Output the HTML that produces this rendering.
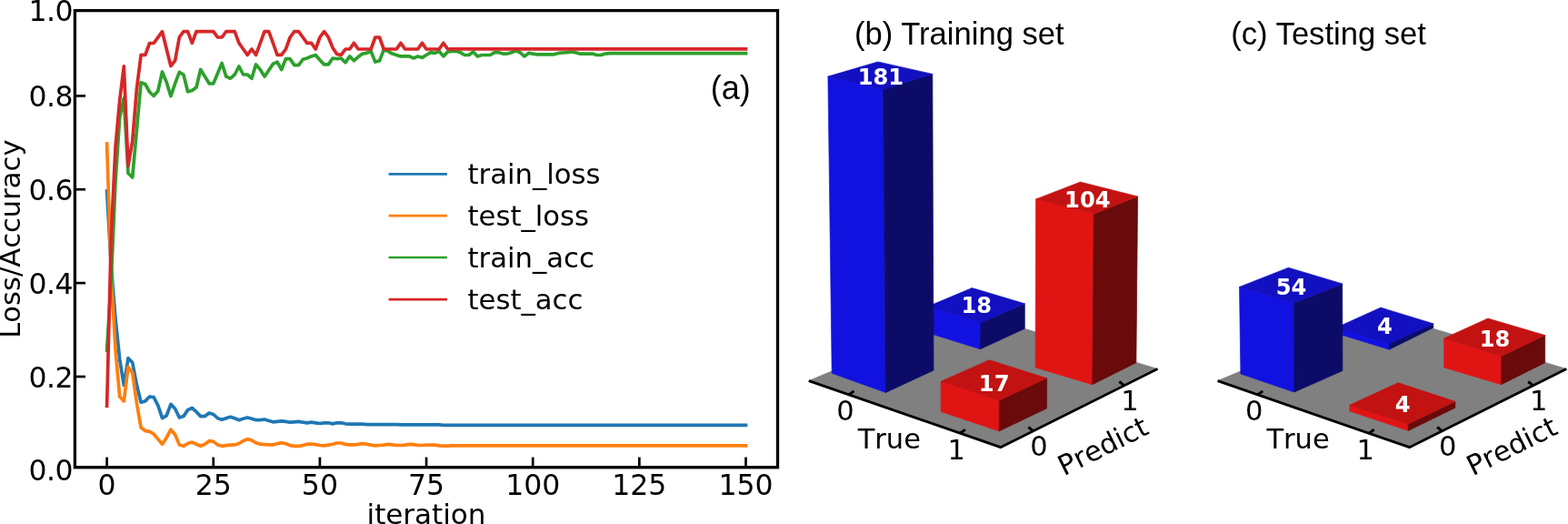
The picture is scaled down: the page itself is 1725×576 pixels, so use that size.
<!DOCTYPE html>
<html><head><meta charset="utf-8"><title>Training curves and confusion matrices</title>
<style>
html,body{margin:0;padding:0;background:#fff;width:1725px;height:576px;overflow:hidden}
svg{display:block}
.dj{font-family:"DejaVu Sans","Liberation Sans",sans-serif;fill:#000;font-kerning:none}
.djb{font-family:"DejaVu Sans","Liberation Sans",sans-serif;font-weight:bold;font-kerning:none}
.lib{font-family:"Liberation Sans",Arial,sans-serif;fill:#000}
</style></head>
<body>
<svg width="1725" height="576" viewBox="0 0 1725 576">
<rect width="1725" height="576" fill="#fff"/>
<g id="panel-a">
<defs><clipPath id="axclip"><rect x="82.4" y="11.6" width="773.1" height="502.15"/></clipPath></defs>
<g clip-path="url(#axclip)">
<polyline points="117.6,210.0 122.3,293.0 127.0,350.0 131.7,395.0 136.3,423.5 141.0,393.7 145.7,398.5 150.4,423.0 155.1,442.3 159.8,440.9 164.5,436.0 169.1,436.7 173.8,445.7 178.5,459.7 183.2,456.9 187.9,444.3 192.6,449.2 197.3,459.0 201.9,457.6 206.6,450.6 211.3,448.5 216.0,452.7 220.7,457.6 225.4,457.6 230.1,454.1 234.8,455.5 239.4,459.7 244.1,461.3 248.8,459.7 253.5,458.3 258.2,459.7 262.9,461.7 267.6,460.3 272.2,459.0 276.9,460.3 281.6,461.7 286.3,461.7 291.0,461.0 295.7,462.4 300.4,463.8 305.0,463.4 309.7,462.9 314.4,463.4 319.1,464.2 323.8,463.8 328.5,463.4 333.2,464.2 337.8,464.8 342.5,464.2 347.2,464.8 351.9,465.5 356.6,464.8 361.3,464.8 366.0,465.9 370.6,464.8 375.3,464.8 380.0,465.8 384.7,466.2 389.4,466.2 394.1,466.2 398.8,466.2 403.4,466.6 408.1,466.6 412.8,466.6 417.5,466.6 422.2,466.6 426.9,466.6 431.6,466.6 436.2,466.6 440.9,466.9 445.6,466.9 450.3,466.9 455.0,466.9 459.7,466.9 464.4,466.9 469.0,466.9 473.7,466.9 478.4,466.9 483.1,466.9 487.8,467.3 492.5,467.3 497.2,467.3 501.9,467.3 506.5,467.3 511.2,467.3 515.9,467.3 520.6,467.4 525.3,467.4 530.0,467.4 534.7,467.4 539.3,467.4 544.0,467.4 548.7,467.4 553.4,467.4 558.1,467.4 562.8,467.4 567.5,467.4 572.1,467.4 576.8,467.4 581.5,467.4 586.2,467.4 590.9,467.4 595.6,467.4 600.3,467.4 604.9,467.4 609.6,467.4 614.3,467.4 619.0,467.4 623.7,467.4 628.4,467.4 633.1,467.4 637.7,467.4 642.4,467.4 647.1,467.4 651.8,467.4 656.5,467.4 661.2,467.4 665.9,467.4 670.5,467.4 675.2,467.4 679.9,467.4 684.6,467.4 689.3,467.4 694.0,467.4 698.7,467.4 703.4,467.4 708.0,467.4 712.7,467.4 717.4,467.4 722.1,467.4 726.8,467.4 731.5,467.4 736.2,467.4 740.8,467.4 745.5,467.4 750.2,467.4 754.9,467.4 759.6,467.4 764.3,467.4 769.0,467.4 773.6,467.4 778.3,467.4 783.0,467.4 787.7,467.4 792.4,467.4 797.1,467.4 801.8,467.4 806.4,467.4 811.1,467.4 815.8,467.4 820.5,467.4" fill="none" stroke="#1f77b4" stroke-width="3.70" stroke-linejoin="round" stroke-linecap="square"/>
<polyline points="117.6,158.0 122.3,302.0 127.0,384.0 131.7,436.0 136.3,440.9 141.0,403.4 145.7,409.5 150.4,443.0 155.1,470.1 159.8,473.6 164.5,474.3 169.1,477.0 173.8,482.6 178.5,488.2 183.2,481.2 187.9,472.2 192.6,477.7 197.3,488.9 201.9,490.3 206.6,487.5 211.3,486.1 216.0,488.2 220.7,490.3 225.4,488.2 230.1,484.7 234.8,485.4 239.4,488.9 244.1,490.3 248.8,489.6 253.5,489.2 258.2,488.9 262.9,487.5 267.6,484.7 272.2,482.6 276.9,484.0 281.6,486.8 286.3,488.2 291.0,488.6 295.7,488.9 300.4,488.9 305.0,487.8 309.7,486.8 314.4,487.8 319.1,489.6 323.8,490.3 328.5,490.3 333.2,489.6 337.8,488.2 342.5,488.2 347.2,488.6 351.9,489.5 356.6,489.8 361.3,489.1 366.0,488.2 370.6,487.0 375.3,487.0 380.0,488.4 384.7,488.9 389.4,488.9 394.1,488.4 398.8,487.7 403.4,488.2 408.1,489.1 412.8,489.8 417.5,489.5 422.2,489.1 426.9,488.4 431.6,488.9 436.2,489.5 440.9,489.5 445.6,489.1 450.3,488.4 455.0,488.7 459.7,489.4 464.4,489.5 469.0,489.1 473.7,489.1 478.4,489.1 483.1,489.8 487.8,490.2 492.5,490.2 497.2,489.8 501.9,489.8 506.5,489.8 511.2,489.8 515.9,489.8 520.6,489.8 525.3,489.8 530.0,489.8 534.7,489.8 539.3,489.8 544.0,489.8 548.7,489.8 553.4,489.8 558.1,489.8 562.8,489.8 567.5,489.8 572.1,489.8 576.8,489.8 581.5,489.8 586.2,489.8 590.9,489.8 595.6,489.8 600.3,489.8 604.9,489.8 609.6,489.8 614.3,489.8 619.0,489.8 623.7,489.8 628.4,489.8 633.1,489.8 637.7,489.8 642.4,489.8 647.1,489.8 651.8,489.8 656.5,489.8 661.2,489.8 665.9,489.8 670.5,489.8 675.2,489.8 679.9,489.8 684.6,489.8 689.3,489.8 694.0,489.8 698.7,489.8 703.4,489.8 708.0,489.8 712.7,489.8 717.4,489.8 722.1,489.8 726.8,489.8 731.5,489.8 736.2,489.8 740.8,489.8 745.5,489.8 750.2,489.8 754.9,489.8 759.6,489.8 764.3,489.8 769.0,489.8 773.6,489.8 778.3,489.8 783.0,489.8 787.7,489.8 792.4,489.8 797.1,489.8 801.8,489.8 806.4,489.8 811.1,489.8 815.8,489.8 820.5,489.8" fill="none" stroke="#ff7f0e" stroke-width="3.70" stroke-linejoin="round" stroke-linecap="square"/>
<polyline points="117.6,385.0 122.3,308.0 127.0,200.0 131.7,129.0 136.3,108.0 141.0,190.5 145.7,195.0 150.4,143.0 155.1,90.7 159.8,92.5 164.5,101.0 169.1,105.5 173.8,100.0 178.5,79.0 183.2,90.4 187.9,105.7 192.6,91.8 197.3,79.3 201.9,82.0 206.6,100.8 211.3,99.4 216.0,96.0 220.7,76.5 225.4,84.1 230.1,91.8 234.8,91.8 239.4,80.7 244.1,69.5 248.8,84.1 253.5,86.2 258.2,82.0 262.9,73.0 267.6,82.0 272.2,82.0 276.9,86.2 281.6,70.9 286.3,76.5 291.0,84.1 295.7,77.2 300.4,70.2 305.0,68.1 309.7,76.5 314.4,64.7 319.1,64.7 323.8,71.6 328.5,71.6 333.2,65.3 337.8,64.0 342.5,61.9 347.2,60.5 351.9,66.0 356.6,70.9 361.3,70.9 366.0,64.0 370.6,64.7 375.3,64.0 380.0,68.8 384.7,61.9 389.4,66.7 394.1,62.6 398.8,59.1 403.4,58.4 408.1,56.3 412.8,68.1 417.5,66.7 422.2,54.9 426.9,56.3 431.6,59.1 436.2,60.5 440.9,61.9 445.6,61.9 450.3,61.9 455.0,64.0 459.7,61.9 464.4,63.3 469.0,60.5 473.7,57.7 478.4,58.4 483.1,56.3 487.8,61.9 492.5,57.0 497.2,56.3 501.9,56.3 506.5,57.7 511.2,60.5 515.9,60.5 520.6,57.0 525.3,61.9 530.0,60.5 534.7,60.5 539.3,60.5 544.0,57.7 548.7,57.7 553.4,59.1 558.1,59.1 562.8,57.7 567.5,55.6 572.1,57.7 576.8,61.9 581.5,58.4 586.2,59.1 590.9,59.8 595.6,59.8 600.3,59.8 604.9,59.8 609.6,59.8 614.3,58.4 619.0,58.0 623.7,57.7 628.4,57.0 633.1,57.7 637.7,59.1 642.4,59.1 647.1,59.1 651.8,59.1 656.5,60.5 661.2,60.5 665.9,59.1 670.5,58.7 675.2,58.7 679.9,58.7 684.6,58.7 689.3,58.7 694.0,58.7 698.7,58.7 703.4,58.7 708.0,58.7 712.7,58.7 717.4,58.7 722.1,58.7 726.8,58.7 731.5,58.7 736.2,58.7 740.8,58.7 745.5,58.7 750.2,58.7 754.9,58.7 759.6,58.7 764.3,58.7 769.0,58.7 773.6,58.7 778.3,58.7 783.0,58.7 787.7,58.7 792.4,58.7 797.1,58.7 801.8,58.7 806.4,58.7 811.1,58.7 815.8,58.7 820.5,58.7" fill="none" stroke="#2ca02c" stroke-width="3.70" stroke-linejoin="round" stroke-linecap="square"/>
<polyline points="117.6,446.3 122.3,260.0 127.0,162.0 131.7,110.0 136.3,72.9 141.0,182.5 145.7,155.0 150.4,98.0 155.1,60.3 159.8,60.3 164.5,47.5 169.1,47.5 173.8,41.1 178.5,34.7 183.2,54.0 187.9,72.5 192.6,66.7 197.3,41.0 201.9,34.7 206.6,34.7 211.3,47.3 216.0,34.7 220.7,34.7 225.4,34.7 230.1,34.7 234.8,34.7 239.4,41.0 244.1,41.0 248.8,34.7 253.5,34.7 258.2,34.7 262.9,47.3 267.6,54.0 272.2,60.4 276.9,54.0 281.6,60.4 286.3,47.3 291.0,34.7 295.7,34.7 300.4,47.3 305.0,60.4 309.7,60.4 314.4,54.0 319.1,41.0 323.8,34.7 328.5,34.7 333.2,41.0 337.8,47.3 342.5,47.3 347.2,54.0 351.9,41.0 356.6,34.7 361.3,41.0 366.0,52.5 370.6,59.5 375.3,60.4 380.0,54.0 384.7,54.0 389.4,47.3 394.1,54.0 398.8,54.0 403.4,54.0 408.1,54.0 412.8,41.0 417.5,41.0 422.2,54.0 426.9,54.0 431.6,54.0 436.2,54.0 440.9,47.3 445.6,54.0 450.3,54.0 455.0,54.0 459.7,54.0 464.4,47.3 469.0,54.0 473.7,54.0 478.4,54.0 483.1,54.0 487.8,47.3 492.5,54.0 497.2,53.8 501.9,53.8 506.5,53.8 511.2,53.8 515.9,53.8 520.6,53.8 525.3,53.8 530.0,53.8 534.7,53.8 539.3,53.8 544.0,53.8 548.7,53.8 553.4,53.8 558.1,53.8 562.8,53.8 567.5,53.8 572.1,53.8 576.8,53.8 581.5,53.8 586.2,53.8 590.9,53.8 595.6,53.8 600.3,53.8 604.9,53.8 609.6,53.8 614.3,53.8 619.0,53.8 623.7,53.8 628.4,53.8 633.1,53.8 637.7,53.8 642.4,53.8 647.1,53.8 651.8,53.8 656.5,53.8 661.2,53.8 665.9,53.8 670.5,53.8 675.2,53.8 679.9,53.8 684.6,53.8 689.3,53.8 694.0,53.8 698.7,53.8 703.4,53.8 708.0,53.8 712.7,53.8 717.4,53.8 722.1,53.8 726.8,53.8 731.5,53.8 736.2,53.8 740.8,53.8 745.5,53.8 750.2,53.8 754.9,53.8 759.6,53.8 764.3,53.8 769.0,53.8 773.6,53.8 778.3,53.8 783.0,53.8 787.7,53.8 792.4,53.8 797.1,53.8 801.8,53.8 806.4,53.8 811.1,53.8 815.8,53.8 820.5,53.8" fill="none" stroke="#d62728" stroke-width="3.70" stroke-linejoin="round" stroke-linecap="square"/>
</g>
<line x1="117.60" y1="513.75" x2="117.60" y2="502.60" stroke="#000" stroke-width="2.70"/>
<line x1="234.75" y1="513.75" x2="234.75" y2="502.60" stroke="#000" stroke-width="2.70"/>
<line x1="351.90" y1="513.75" x2="351.90" y2="502.60" stroke="#000" stroke-width="2.70"/>
<line x1="469.05" y1="513.75" x2="469.05" y2="502.60" stroke="#000" stroke-width="2.70"/>
<line x1="586.20" y1="513.75" x2="586.20" y2="502.60" stroke="#000" stroke-width="2.70"/>
<line x1="703.35" y1="513.75" x2="703.35" y2="502.60" stroke="#000" stroke-width="2.70"/>
<line x1="820.50" y1="513.75" x2="820.50" y2="502.60" stroke="#000" stroke-width="2.70"/>
<line x1="82.40" y1="414.00" x2="94.05" y2="414.00" stroke="#000" stroke-width="2.70"/>
<line x1="82.40" y1="311.10" x2="94.05" y2="311.10" stroke="#000" stroke-width="2.70"/>
<line x1="82.40" y1="208.20" x2="94.05" y2="208.20" stroke="#000" stroke-width="2.70"/>
<line x1="82.40" y1="105.40" x2="94.05" y2="105.40" stroke="#000" stroke-width="2.70"/>
<rect x="82.40" y="11.60" width="773.10" height="502.15" fill="none" stroke="#000" stroke-width="3.30"/>
<text x="80.0" y="22.68" text-anchor="end" class="dj" font-size="31.5" letter-spacing="-0.5">1.0</text>
<text x="80.0" y="117.08" text-anchor="end" class="dj" font-size="31.5" letter-spacing="-0.5">0.8</text>
<text x="80.0" y="219.78" text-anchor="end" class="dj" font-size="31.5" letter-spacing="-0.5">0.6</text>
<text x="80.0" y="322.68" text-anchor="end" class="dj" font-size="31.5" letter-spacing="-0.5">0.4</text>
<text x="80.0" y="426.08" text-anchor="end" class="dj" font-size="31.5" letter-spacing="-0.5">0.2</text>
<text x="80.0" y="527.58" text-anchor="end" class="dj" font-size="31.5" letter-spacing="-0.5">0.0</text>
<text x="117.60" y="543.50" text-anchor="middle" class="dj" font-size="31.5">0</text>
<text x="234.75" y="543.50" text-anchor="middle" class="dj" font-size="31.5">25</text>
<text x="351.90" y="543.50" text-anchor="middle" class="dj" font-size="31.5">50</text>
<text x="469.05" y="543.50" text-anchor="middle" class="dj" font-size="31.5">75</text>
<text x="586.20" y="543.50" text-anchor="middle" class="dj" font-size="31.5">100</text>
<text x="703.35" y="543.50" text-anchor="middle" class="dj" font-size="31.5">125</text>
<text x="820.50" y="543.50" text-anchor="middle" class="dj" font-size="31.5">150</text>
<text x="469" y="575.8" text-anchor="middle" class="dj" font-size="31">iteration</text>
<text transform="translate(22.1,262.6) rotate(-90)" text-anchor="middle" class="dj" font-size="30.6">Loss/Accuracy</text>
<text x="803.8" y="108.6" text-anchor="middle" class="lib" font-size="36">(a)</text>
<line x1="427.6" y1="191.45" x2="491.9" y2="191.45" stroke="#1f77b4" stroke-width="2.7"/>
<text x="514.5" y="202.45" class="dj" font-size="30.7">train_loss</text>
<line x1="427.6" y1="237.20" x2="491.9" y2="237.20" stroke="#ff7f0e" stroke-width="2.7"/>
<text x="514.5" y="248.20" class="dj" font-size="30.7">test_loss</text>
<line x1="427.6" y1="283.00" x2="491.9" y2="283.00" stroke="#2ca02c" stroke-width="2.7"/>
<text x="514.5" y="294.00" class="dj" font-size="30.7">train_acc</text>
<line x1="427.6" y1="329.10" x2="491.9" y2="329.10" stroke="#d62728" stroke-width="2.7"/>
<text x="514.5" y="340.10" class="dj" font-size="30.7">test_acc</text>
</g>
<g id="panel-b">
<polygon points="889.8,418.6 1100.8,491.7 1273.5,405.5 1068.2,343.4" fill="#808080" stroke="#808080" stroke-width="0.70" stroke-linejoin="round"/>
<polygon points="1021.1,336.8 1079.0,354.5 1078.4,383.8 1021.5,366.0" fill="#1212e0" stroke="#1212e0" stroke-width="0.70" stroke-linejoin="round"/>
<polygon points="1079.0,354.5 1127.3,333.8 1127.3,361.2 1078.4,383.8" fill="#0c0c68" stroke="#0c0c68" stroke-width="0.70" stroke-linejoin="round"/>
<polygon points="1069.4,316.5 1127.3,333.8 1079.0,354.5 1021.1,336.8" fill="#1210c0" stroke="#1210c0" stroke-width="0.70" stroke-linejoin="round"/>
<polygon points="910.9,84.1 971.6,98.2 974.4,431.5 915.2,410.3" fill="#1212e0" stroke="#1212e0" stroke-width="0.70" stroke-linejoin="round"/>
<polygon points="971.6,98.2 1025.8,81.4 1027.0,407.1 974.4,431.5" fill="#0c0c68" stroke="#0c0c68" stroke-width="0.70" stroke-linejoin="round"/>
<polygon points="965.8,67.9 1025.8,81.4 971.6,98.2 910.9,84.1" fill="#1210c0" stroke="#1210c0" stroke-width="0.70" stroke-linejoin="round"/>
<polygon points="1139.6,218.9 1203.3,235.1 1201.8,422.7 1139.1,404.0" fill="#e11414" stroke="#e11414" stroke-width="0.70" stroke-linejoin="round"/>
<polygon points="1203.3,235.1 1251.6,215.9 1249.9,398.7 1201.8,422.7" fill="#6a0a0a" stroke="#6a0a0a" stroke-width="0.70" stroke-linejoin="round"/>
<polygon points="1188.5,200.1 1251.6,215.9 1203.3,235.1 1139.6,218.9" fill="#c31212" stroke="#c31212" stroke-width="0.70" stroke-linejoin="round"/>
<polygon points="1035.2,419.3 1099.4,440.0 1099.2,473.9 1035.2,452.5" fill="#e11414" stroke="#e11414" stroke-width="0.70" stroke-linejoin="round"/>
<polygon points="1099.4,440.0 1151.7,415.7 1151.5,448.9 1099.2,473.9" fill="#6a0a0a" stroke="#6a0a0a" stroke-width="0.70" stroke-linejoin="round"/>
<polygon points="1088.3,395.7 1151.7,415.7 1099.4,440.0 1035.2,419.3" fill="#c31212" stroke="#c31212" stroke-width="0.70" stroke-linejoin="round"/>
<polyline points="889.8,418.6 1100.8,491.7 1273.5,405.5" fill="none" stroke="#000" stroke-width="2.9" stroke-linejoin="miter"/>
<line x1="934.0" y1="433.9" x2="939.4" y2="429.9" stroke="#000" stroke-width="3.0"/>
<line x1="1056.3" y1="476.2" x2="1061.9" y2="472.1" stroke="#000" stroke-width="3.0"/>
<line x1="1136.6" y1="473.8" x2="1131.4" y2="469.5" stroke="#000" stroke-width="3.0"/>
<line x1="1236.6" y1="423.7" x2="1231.4" y2="419.5" stroke="#000" stroke-width="3.0"/>
<text x="968.9" y="92.9" text-anchor="middle" class="djb" font-size="24.2" fill="#fff">181</text>
<text x="1074.3" y="343.8" text-anchor="middle" class="djb" font-size="24.2" fill="#fff">18</text>
<text x="1196.3" y="227.5" text-anchor="middle" class="djb" font-size="24.2" fill="#fff">104</text>
<text x="1093.7" y="429.6" text-anchor="middle" class="djb" font-size="24.2" fill="#fff">17</text>
<text x="930.0" y="462.0" text-anchor="middle" class="dj" font-size="30.5">0</text>
<text x="1052.3" y="504.7" text-anchor="middle" class="dj" font-size="30.5">1</text>
<text x="1142.9" y="501.2" text-anchor="middle" class="dj" font-size="30.5">0</text>
<text x="1242.9" y="451.2" text-anchor="middle" class="dj" font-size="30.5">1</text>
<text x="978.3" y="493.3" text-anchor="middle" class="dj" font-size="30.5">True</text>
<text transform="translate(1218.0,499.8) rotate(-26.5)" text-anchor="middle" class="dj" font-size="30.5">Predict</text>
<text x="940" y="49.1" class="lib" font-size="34.6">(b) Training set</text>
</g>
<g id="panel-c">
<polygon points="1339.6,418.6 1550.6,491.7 1723.3,405.5 1518.0,343.4" fill="#808080" stroke="#808080" stroke-width="0.70" stroke-linejoin="round"/>
<polygon points="1470.5,360.0 1528.3,377.7 1528.3,384.2 1470.5,366.5" fill="#1212e0" stroke="#1212e0" stroke-width="0.70" stroke-linejoin="round"/>
<polygon points="1528.3,377.7 1576.8,355.8 1576.8,360.2 1528.3,384.2" fill="#0c0c68" stroke="#0c0c68" stroke-width="0.70" stroke-linejoin="round"/>
<polygon points="1519.0,338.1 1576.8,355.8 1528.3,377.7 1470.5,360.0" fill="#1210c0" stroke="#1210c0" stroke-width="0.70" stroke-linejoin="round"/>
<polygon points="1363.5,315.4 1423.2,333.1 1423.8,431.0 1364.9,411.0" fill="#1212e0" stroke="#1212e0" stroke-width="0.70" stroke-linejoin="round"/>
<polygon points="1423.2,333.1 1476.7,311.9 1476.9,407.6 1423.8,431.0" fill="#0c0c68" stroke="#0c0c68" stroke-width="0.70" stroke-linejoin="round"/>
<polygon points="1417.5,294.2 1476.7,311.9 1423.2,333.1 1363.5,315.4" fill="#1210c0" stroke="#1210c0" stroke-width="0.70" stroke-linejoin="round"/>
<polygon points="1588.6,371.9 1651.9,391.4 1651.6,422.7 1588.6,403.9" fill="#e11414" stroke="#e11414" stroke-width="0.70" stroke-linejoin="round"/>
<polygon points="1651.9,391.4 1699.7,368.5 1699.7,398.7 1651.6,422.7" fill="#6a0a0a" stroke="#6a0a0a" stroke-width="0.70" stroke-linejoin="round"/>
<polygon points="1636.9,350.0 1699.7,368.5 1651.9,391.4 1588.6,371.9" fill="#c31212" stroke="#c31212" stroke-width="0.70" stroke-linejoin="round"/>
<polygon points="1484.9,445.2 1549.3,466.1 1549.3,473.4 1484.9,451.9" fill="#e11414" stroke="#e11414" stroke-width="0.70" stroke-linejoin="round"/>
<polygon points="1549.3,466.1 1600.9,441.3 1600.9,448.3 1549.3,473.4" fill="#6a0a0a" stroke="#6a0a0a" stroke-width="0.70" stroke-linejoin="round"/>
<polygon points="1538.1,420.7 1600.9,441.3 1549.3,466.1 1484.9,445.2" fill="#c31212" stroke="#c31212" stroke-width="0.70" stroke-linejoin="round"/>
<polyline points="1339.6,418.6 1550.6,491.7 1723.3,405.5" fill="none" stroke="#000" stroke-width="2.9" stroke-linejoin="miter"/>
<line x1="1383.8" y1="433.9" x2="1389.2" y2="429.9" stroke="#000" stroke-width="3.0"/>
<line x1="1506.1" y1="476.2" x2="1511.7" y2="472.1" stroke="#000" stroke-width="3.0"/>
<line x1="1586.4" y1="473.8" x2="1581.2" y2="469.5" stroke="#000" stroke-width="3.0"/>
<line x1="1686.4" y1="423.7" x2="1681.2" y2="419.5" stroke="#000" stroke-width="3.0"/>
<text x="1420.5" y="323.9" text-anchor="middle" class="djb" font-size="24.2" fill="#fff">54</text>
<text x="1523.4" y="367.3" text-anchor="middle" class="djb" font-size="24.2" fill="#fff">4</text>
<text x="1644.6" y="380.6" text-anchor="middle" class="djb" font-size="24.2" fill="#fff">18</text>
<text x="1543.2" y="453.3" text-anchor="middle" class="djb" font-size="24.2" fill="#fff">4</text>
<text x="1379.8" y="462.0" text-anchor="middle" class="dj" font-size="30.5">0</text>
<text x="1502.1" y="504.7" text-anchor="middle" class="dj" font-size="30.5">1</text>
<text x="1592.7" y="501.2" text-anchor="middle" class="dj" font-size="30.5">0</text>
<text x="1692.7" y="451.2" text-anchor="middle" class="dj" font-size="30.5">1</text>
<text x="1428.1" y="493.3" text-anchor="middle" class="dj" font-size="30.5">True</text>
<text transform="translate(1667.8,499.8) rotate(-26.5)" text-anchor="middle" class="dj" font-size="30.5">Predict</text>
<text x="1354.3" y="49.1" class="lib" font-size="34.6">(c) Testing set</text>
</g>
</svg>
</body></html>
